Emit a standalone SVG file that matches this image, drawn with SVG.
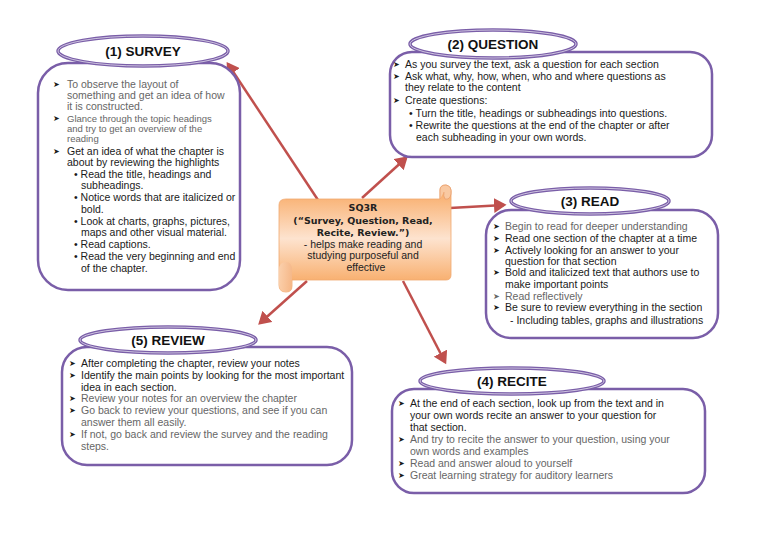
<svg xmlns="http://www.w3.org/2000/svg" width="768" height="543" viewBox="0 0 768 543">
<style>
.box{fill:#fff;stroke:#7a5ea8;stroke-width:2.5}
.ell{fill:#fff;stroke:#7a5ea8;stroke-width:3.5}
.ell2{fill:none;stroke:#fff;stroke-width:0.8;opacity:0.8}
.ttl{font-family:"Liberation Sans",Arial,sans-serif;font-size:13.5px;font-weight:bold;fill:#111;text-anchor:middle}
.t{font-family:"Liberation Sans",Arial,sans-serif;font-size:10.5px;fill:#1a1a1a}
.m{font-family:"DejaVu Sans",sans-serif;font-size:8px;fill:#1a1a1a}
.g{fill:#666}
.s{font-size:9.5px}
.c{font-family:"Liberation Sans",Arial,sans-serif;font-size:10.5px;fill:#222;text-anchor:middle}
.cb{font-family:"DejaVu Sans",Verdana,sans-serif;font-size:9.5px;font-weight:bold;fill:#222;text-anchor:middle}
.con{stroke:#c0504d;stroke-width:2.5;fill:none;marker-end:url(#ah)}
</style>
<defs>
<marker id="ah" markerWidth="6" markerHeight="6" refX="4" refY="3" orient="auto" markerUnits="strokeWidth">
<path d="M0,0 L5,3 L0,6 z" fill="#c0504d"/>
</marker>
<linearGradient id="scroll" x1="0" y1="0" x2="0" y2="1">
<stop offset="0" stop-color="#f8a55c"/>
<stop offset="0.5" stop-color="#fde3cf"/>
<stop offset="1" stop-color="#f7a256"/>
</linearGradient>
<linearGradient id="roll" x1="0" y1="0" x2="1" y2="0">
<stop offset="0" stop-color="#fbd2b0"/>
<stop offset="1" stop-color="#f5b88a"/>
</linearGradient>
</defs>
<rect width="768" height="543" fill="#fff"/>

<g id="connectors">
<line class="con" x1="318" y1="200" x2="228" y2="64"/>
<line class="con" x1="362" y1="198" x2="406" y2="158"/>
<line class="con" x1="450" y1="208" x2="504" y2="205"/>
<line class="con" x1="307" y1="281" x2="260" y2="323"/>
<line class="con" x1="403" y1="281" x2="445" y2="362"/>
</g>

<g id="center">
<path d="M286,199 H440 V190 Q440,185 446,185 Q452,186 451,194 V275 Q451,280 446,280 H292 V286 Q292,292 286,292 Q279,292 279,285 V205 Q279,199 286,199 Z" fill="url(#scroll)" stroke="#f0a870" stroke-width="0.8"/>
<path d="M279,270 Q279,262 286,262 Q292,262 292,270 V286 Q292,292 286,292 Q279,292 279,285 Z" fill="url(#roll)" opacity="0.9"/>
<path d="M440,199 V190 Q440,185 446,185 Q452,186 451,194 Q450,200 445,199 Q443,196 444,192" fill="#f9c9a2" stroke="#e8a070" stroke-width="0.8"/>
<text class="cb" x="363" y="211">SQ3R</text>
<text class="cb" x="363" y="224">(“Survey, Question, Read,</text>
<text class="cb" x="363" y="236">Recite, Review.”)</text>
<text class="c" x="363" y="248">- helps make reading and</text>
<text class="c" x="363" y="259">studying purposeful and</text>
<text class="c" x="366" y="271">effective</text>
</g>

<g id="survey">
<rect class="box" x="38" y="63" width="202" height="227" rx="30"/>
<ellipse class="ell" cx="143" cy="51" rx="85" ry="15"/>
<ellipse class="ell2" cx="143" cy="51" rx="85" ry="15"/>
<text class="ttl" x="143" y="56">(1) SURVEY</text>
<text x="53" y="87" class="m">➤</text><text x="67" y="88" class="t g">To observe the layout of</text>
<text x="67" y="99" class="t g">something and get an idea of how</text>
<text x="67" y="110" class="t g">it is constructed.</text>
<text x="53" y="121" class="m">➤</text><text x="67" y="122" class="t g s">Glance through the topic headings</text>
<text x="67" y="132" class="t g s">and try to get an overview of the</text>
<text x="67" y="142" class="t g s">reading</text>
<text x="53" y="154" class="m">➤</text><text x="67" y="155" class="t">Get an idea of what the chapter is</text>
<text x="67" y="166" class="t">about by reviewing the highlights</text>
<text x="74" y="178" class="t">• Read the title, headings and</text>
<text x="81" y="189" class="t">subheadings.</text>
<text x="74" y="201" class="t">• Notice words that are italicized or</text>
<text x="81" y="213" class="t">bold.</text>
<text x="74" y="225" class="t">• Look at charts, graphs, pictures,</text>
<text x="81" y="236" class="t">maps and other visual material.</text>
<text x="74" y="248" class="t">• Read captions.</text>
<text x="74" y="260" class="t">• Read the very beginning and end</text>
<text x="81" y="272" class="t">of the chapter.</text>
</g>

<g id="question">
<rect class="box" x="390" y="52" width="322" height="105" rx="22"/>
<ellipse class="ell" cx="493" cy="44" rx="83" ry="14"/>
<ellipse class="ell2" cx="493" cy="44" rx="83" ry="14"/>
<text class="ttl" x="493" y="49">(2) QUESTION</text>
<text x="393" y="67" class="m">➤</text><text x="405" y="68" class="t">As you survey the text, ask a question for each section</text>
<text x="393" y="79" class="m">➤</text><text x="405" y="80" class="t">Ask what, why, how, when, who and where questions as</text>
<text x="405" y="91" class="t">they relate to the content</text>
<text x="393" y="103" class="m">➤</text><text x="405" y="104" class="t">Create questions:</text>
<text x="409" y="117" class="t">• Turn the title, headings or subheadings into questions.</text>
<text x="409" y="129" class="t">• Rewrite the questions at the end of the chapter or after</text>
<text x="416" y="141" class="t">each subheading in your own words.</text>
</g>

<g id="read">
<rect class="box" x="486" y="210" width="232" height="128" rx="25"/>
<ellipse class="ell" cx="590" cy="201" rx="79" ry="13"/>
<ellipse class="ell2" cx="590" cy="201" rx="79" ry="13"/>
<text class="ttl" x="590" y="206">(3) READ</text>
<text x="493" y="229" class="m">➤</text><text x="505" y="230" class="t g">Begin to read for deeper understanding</text>
<text x="493" y="241" class="m">➤</text><text x="505" y="242" class="t">Read one section of the chapter at a time</text>
<text x="493" y="253" class="m">➤</text><text x="505" y="254" class="t">Actively looking for an answer to your</text>
<text x="505" y="265" class="t">question for that section</text>
<text x="493" y="275" class="m">➤</text><text x="505" y="276" class="t">Bold and italicized text that authors use to</text>
<text x="505" y="288" class="t">make important points</text>
<text x="493" y="299" class="m g">➤</text><text x="505" y="300" class="t g">Read reflectively</text>
<text x="493" y="310" class="m">➤</text><text x="505" y="311" class="t">Be sure to review everything in the section</text>
<text x="510" y="324" class="t">- Including tables, graphs and illustrations</text>
</g>

<g id="review">
<rect class="box" x="62" y="347" width="290" height="118" rx="25"/>
<ellipse class="ell" cx="168" cy="340" rx="88" ry="13"/>
<ellipse class="ell2" cx="168" cy="340" rx="88" ry="13"/>
<text class="ttl" x="168" y="345">(5) REVIEW</text>
<text x="69" y="366" class="m">➤</text><text x="81" y="367" class="t">After completing the chapter, review your notes</text>
<text x="69" y="378" class="m">➤</text><text x="81" y="379" class="t">Identify the main points by looking for the most important</text>
<text x="81" y="391" class="t">idea in each section.</text>
<text x="69" y="401" class="m">➤</text><text x="81" y="402" class="t g">Review your notes for an overview the chapter</text>
<text x="69" y="413" class="m">➤</text><text x="81" y="414" class="t g">Go back to review your questions, and see if you can</text>
<text x="81" y="426" class="t g">answer them all easily.</text>
<text x="69" y="437" class="m">➤</text><text x="81" y="438" class="t g">If not, go back and review the survey and the reading</text>
<text x="81" y="450" class="t g">steps.</text>
</g>

<g id="recite">
<rect class="box" x="392" y="389" width="313" height="104" rx="22"/>
<ellipse class="ell" cx="512" cy="381" rx="92" ry="13"/>
<ellipse class="ell2" cx="512" cy="381" rx="92" ry="13"/>
<text class="ttl" x="512" y="386">(4) RECITE</text>
<text x="398" y="406" class="m">➤</text><text x="410" y="407" class="t">At the end of each section, look up from the text and in</text>
<text x="410" y="419" class="t">your own words recite an answer to your question for</text>
<text x="410" y="431" class="t">that section.</text>
<text x="398" y="442" class="m">➤</text><text x="410" y="443" class="t g">And try to recite the answer to your question, using your</text>
<text x="410" y="455" class="t g">own words and examples</text>
<text x="398" y="466" class="m">➤</text><text x="410" y="467" class="t g">Read and answer aloud to yourself</text>
<text x="398" y="478" class="m">➤</text><text x="410" y="479" class="t g">Great learning strategy for auditory learners</text>
</g>
</svg>
